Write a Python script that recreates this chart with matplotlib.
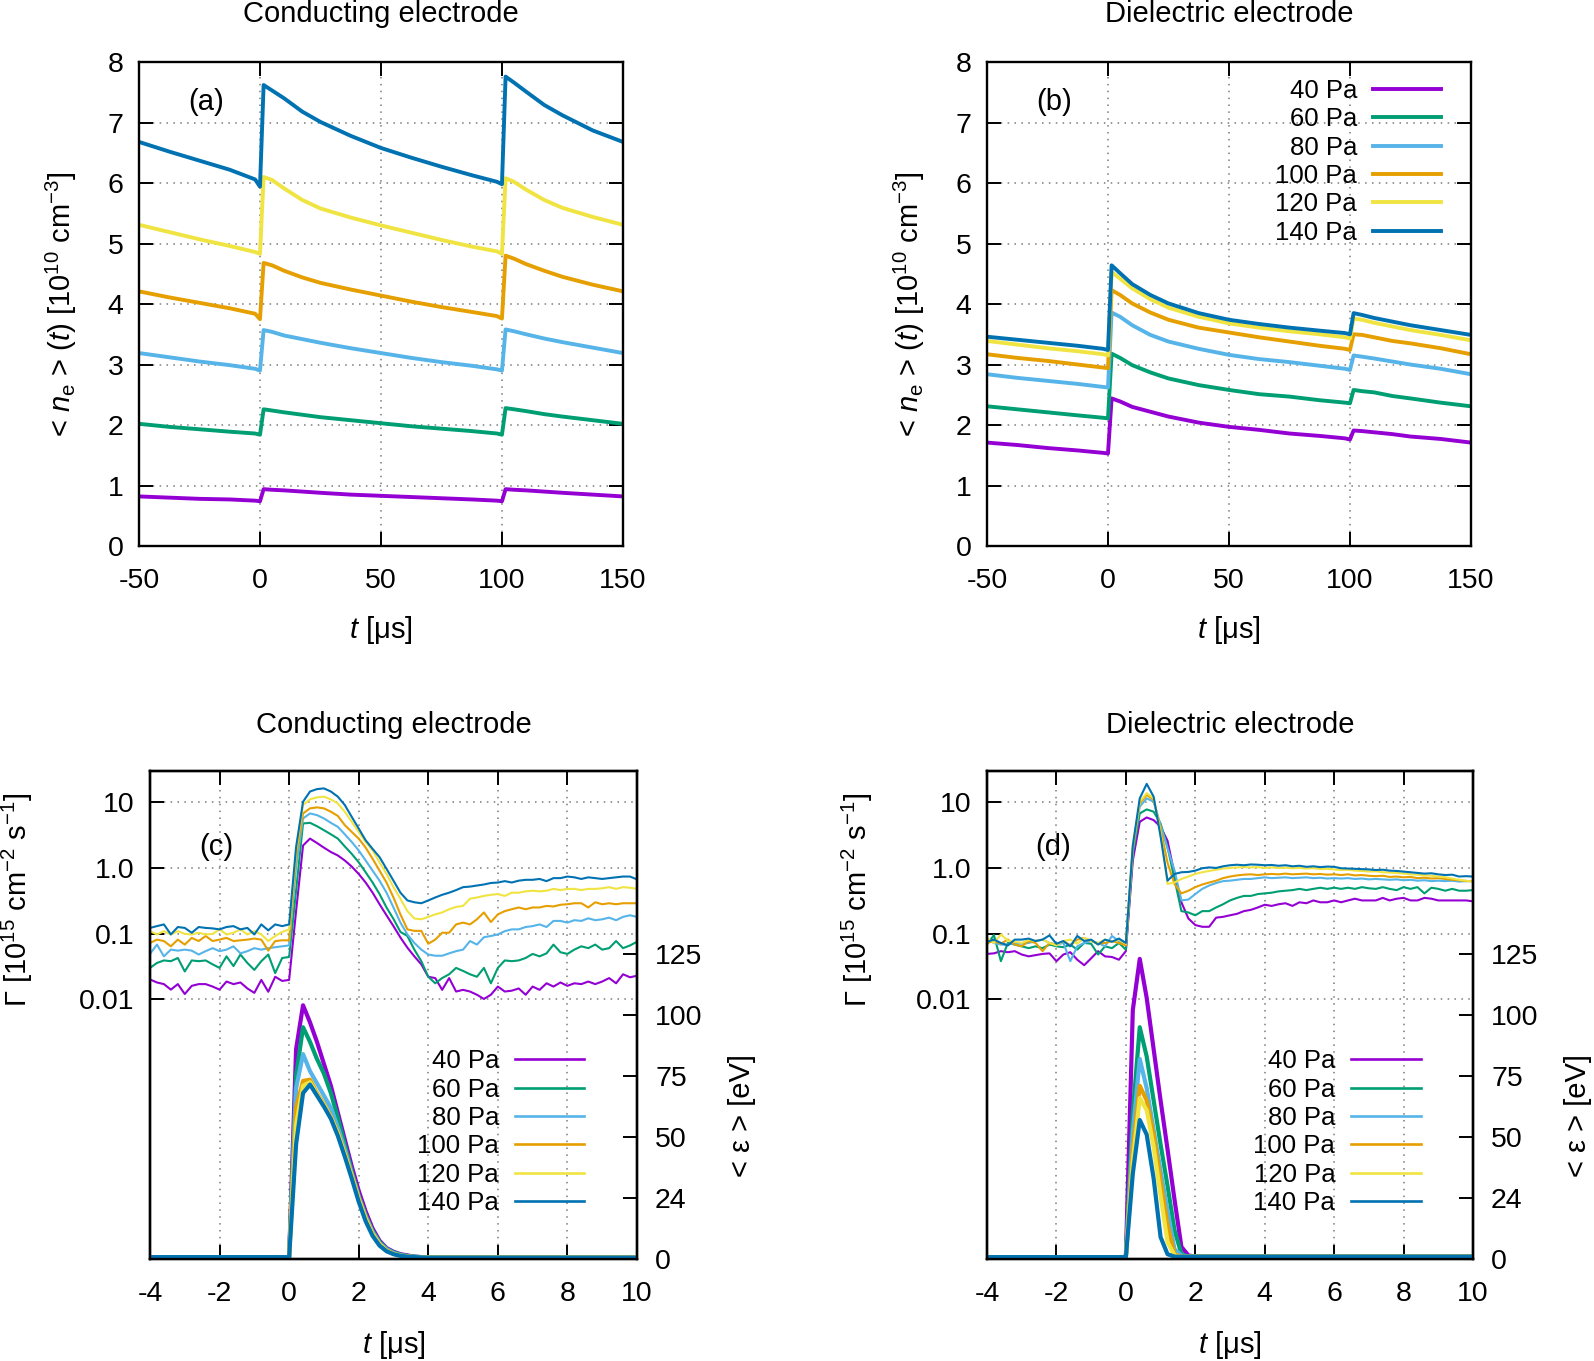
import numpy as np
import matplotlib
matplotlib.use("Agg")
import matplotlib.pyplot as plt
from matplotlib.ticker import NullLocator

plt.rcParams['font.family'] = ['Liberation Sans', 'DejaVu Sans']
plt.rcParams['mathtext.fontset'] = 'custom'
plt.rcParams['mathtext.rm'] = 'Liberation Sans'
plt.rcParams['mathtext.it'] = 'Liberation Sans:italic'
plt.rcParams['mathtext.bf'] = 'Liberation Sans:bold'
plt.rcParams['axes.unicode_minus'] = False

pressures = ["40 Pa", "60 Pa", "80 Pa", "100 Pa", "120 Pa", "140 Pa"]
colors = ["#9400d3", "#009e73", "#56b4e9", "#e69f00", "#f0e442", "#0072b2"]

# ---- mean electron density, 1e10 cm^-3 (panels a, b) ----
t_ne = [-50, -37.5, -25, -12.5, -2, 0, 1.5, 5, 10, 17.5, 25, 37.5, 50, 62.5, 75,
        87.5, 98, 100, 101.5, 105, 110, 117.5, 125, 137.5, 150]

ne_cond_40 = [0.82, 0.80, 0.78, 0.77, 0.75, 0.74, 0.94, 0.93, 0.92, 0.90, 0.88, 0.85, 0.83,
              0.81, 0.79, 0.77, 0.75, 0.74, 0.94, 0.93, 0.92, 0.90, 0.88, 0.85, 0.82]
ne_cond_60 = [2.02, 1.97, 1.93, 1.89, 1.86, 1.84, 2.26, 2.24, 2.21, 2.17, 2.13, 2.08, 2.03,
              1.98, 1.94, 1.90, 1.86, 1.84, 2.28, 2.26, 2.23, 2.18, 2.14, 2.08, 2.02]
ne_cond_80 = [3.19, 3.12, 3.05, 2.99, 2.93, 2.90, 3.57, 3.54, 3.48, 3.42, 3.36, 3.27, 3.19,
              3.11, 3.04, 2.98, 2.92, 2.90, 3.58, 3.55, 3.50, 3.43, 3.37, 3.28, 3.19]
ne_cond_100 = [4.21, 4.11, 4.02, 3.93, 3.84, 3.75, 4.68, 4.64, 4.55, 4.44, 4.35, 4.24, 4.14,
               4.04, 3.95, 3.87, 3.80, 3.76, 4.80, 4.75, 4.66, 4.55, 4.45, 4.32, 4.21]
ne_cond_120 = [5.31, 5.19, 5.07, 4.96, 4.86, 4.83, 6.10, 6.05, 5.91, 5.72, 5.58, 5.43, 5.30,
               5.18, 5.06, 4.95, 4.87, 4.83, 6.08, 6.02, 5.89, 5.72, 5.59, 5.44, 5.31]
ne_cond_140 = [6.68, 6.52, 6.37, 6.22, 6.06, 5.94, 7.62, 7.53, 7.40, 7.18, 7.01, 6.78, 6.58,
               6.42, 6.27, 6.13, 6.02, 5.98, 7.76, 7.66, 7.51, 7.29, 7.12, 6.87, 6.68]

ne_diel_40 = [1.71, 1.67, 1.62, 1.58, 1.54, 1.53, 2.44, 2.39, 2.30, 2.22, 2.14, 2.04, 1.97,
              1.92, 1.86, 1.82, 1.78, 1.76, 1.91, 1.90, 1.88, 1.85, 1.81, 1.77, 1.71]
ne_diel_60 = [2.31, 2.26, 2.21, 2.16, 2.12, 2.11, 3.18, 3.11, 2.99, 2.87, 2.77, 2.66, 2.58,
              2.51, 2.47, 2.41, 2.37, 2.36, 2.58, 2.56, 2.54, 2.48, 2.44, 2.37, 2.31]
ne_diel_80 = [2.84, 2.78, 2.73, 2.68, 2.63, 2.62, 3.86, 3.79, 3.65, 3.49, 3.38, 3.26, 3.16,
              3.09, 3.04, 2.98, 2.93, 2.91, 3.15, 3.13, 3.10, 3.05, 3.00, 2.93, 2.84]
ne_diel_100 = [3.17, 3.11, 3.06, 3.00, 2.95, 2.94, 4.23, 4.15, 4.01, 3.86, 3.74, 3.61, 3.53,
               3.45, 3.38, 3.31, 3.26, 3.24, 3.50, 3.49, 3.45, 3.39, 3.35, 3.27, 3.17]
ne_diel_120 = [3.39, 3.33, 3.27, 3.22, 3.17, 3.15, 4.53, 4.42, 4.26, 4.08, 3.94, 3.79, 3.68,
               3.61, 3.55, 3.50, 3.45, 3.43, 3.76, 3.74, 3.69, 3.63, 3.57, 3.49, 3.40]
ne_diel_140 = [3.46, 3.41, 3.36, 3.31, 3.26, 3.24, 4.64, 4.51, 4.33, 4.15, 4.01, 3.85, 3.74,
               3.67, 3.61, 3.56, 3.52, 3.50, 3.85, 3.82, 3.77, 3.71, 3.65, 3.57, 3.49]

# ---- flux Gamma, 1e15 cm^-2 s^-1, sampled every 0.2 us from -4 to 10 (panels c, d) ----
t_flux = np.round(np.arange(-4.0, 10.001, 0.2), 1)

flux_cond_40 = [0.020, 0.018, 0.017, 0.014, 0.017, 0.012, 0.016, 0.017, 0.017, 0.0156,
                0.014, 0.0186, 0.017, 0.018, 0.0146, 0.0125, 0.0197, 0.013, 0.022, 0.019,
                0.0197, 0.22, 2.2, 2.8, 2.4, 2.04, 1.75, 1.55, 1.30, 1.05,
                0.81, 0.60, 0.42, 0.28, 0.19, 0.13, 0.087, 0.061, 0.045, 0.034,
                0.022, 0.021, 0.0139, 0.021, 0.0131, 0.0139, 0.0131, 0.0117, 0.0101, 0.0117,
                0.0156, 0.0131, 0.0135, 0.0146, 0.0117, 0.0156, 0.0139, 0.0175, 0.0156, 0.018,
                0.016, 0.0175, 0.017, 0.0186, 0.017, 0.0186, 0.021, 0.0175, 0.024, 0.0216,
                0.0228]
flux_cond_60 = [0.030, 0.0357, 0.039, 0.038, 0.0425, 0.0265, 0.039, 0.038, 0.039, 0.034,
                0.030, 0.045, 0.032, 0.048, 0.0357, 0.028, 0.038, 0.048, 0.025, 0.0425,
                0.044, 0.45, 4.76, 4.87, 4.33, 3.76, 3.26, 2.80, 2.13, 1.64,
                1.22, 0.86, 0.60, 0.40, 0.25, 0.167, 0.106, 0.092, 0.057, 0.038,
                0.022, 0.0175, 0.021, 0.024, 0.030, 0.027, 0.024, 0.022, 0.030, 0.0175,
                0.030, 0.039, 0.038, 0.039, 0.0425, 0.049, 0.045, 0.050, 0.068, 0.052,
                0.049, 0.057, 0.064, 0.060, 0.068, 0.057, 0.060, 0.077, 0.060, 0.066,
                0.075]
flux_cond_80 = [0.049, 0.068, 0.045, 0.057, 0.055, 0.057, 0.055, 0.048, 0.054, 0.060,
                0.054, 0.057, 0.064, 0.050, 0.054, 0.060, 0.057, 0.060, 0.062, 0.064,
                0.066, 1.03, 5.68, 6.77, 6.39, 5.68, 4.87, 4.23, 3.26, 2.49,
                1.85, 1.30, 0.91, 0.64, 0.42, 0.25, 0.147, 0.097, 0.072, 0.057,
                0.048, 0.046, 0.046, 0.050, 0.054, 0.057, 0.077, 0.068, 0.088, 0.092,
                0.097, 0.109, 0.116, 0.116, 0.126, 0.130, 0.138, 0.126, 0.156, 0.156,
                0.147, 0.160, 0.156, 0.171, 0.160, 0.165, 0.175, 0.160, 0.180, 0.190,
                0.180]
flux_cond_100 = [0.072, 0.081, 0.077, 0.064, 0.081, 0.068, 0.086, 0.077, 0.092, 0.077,
                 0.081, 0.086, 0.077, 0.079, 0.081, 0.084, 0.081, 0.055, 0.077, 0.079,
                 0.079, 1.47, 6.77, 8.09, 8.38, 8.09, 7.19, 6.20, 4.50, 3.54,
                 2.80, 2.04, 1.38, 0.91, 0.60, 0.355, 0.196, 0.116, 0.110, 0.110,
                 0.070, 0.081, 0.103, 0.103, 0.138, 0.147, 0.138, 0.165, 0.21, 0.15,
                 0.196, 0.22, 0.235, 0.25, 0.235, 0.25, 0.25, 0.264, 0.259, 0.275,
                 0.28, 0.29, 0.29, 0.25, 0.30, 0.28, 0.29, 0.28, 0.29, 0.29,
                 0.29]
flux_cond_120 = [0.109, 0.097, 0.109, 0.097, 0.109, 0.099, 0.097, 0.103, 0.097, 0.099,
                 0.116, 0.097, 0.103, 0.116, 0.097, 0.109, 0.097, 0.077, 0.092, 0.106,
                 0.116, 1.85, 9.1, 11.1, 11.9, 12.2, 11.1, 9.6, 7.19, 5.05,
                 3.54, 2.49, 1.85, 1.22, 0.81, 0.51, 0.34, 0.22, 0.17, 0.165,
                 0.18, 0.196, 0.21, 0.235, 0.255, 0.264, 0.34, 0.355, 0.375, 0.39,
                 0.40, 0.375, 0.42, 0.42, 0.44, 0.45, 0.44, 0.45, 0.48, 0.46,
                 0.48, 0.48, 0.46, 0.48, 0.48, 0.49, 0.51, 0.48, 0.51, 0.50,
                 0.48]
flux_cond_140 = [0.122, 0.130, 0.138, 0.097, 0.126, 0.122, 0.103, 0.126, 0.122, 0.120,
                 0.116, 0.126, 0.130, 0.116, 0.122, 0.097, 0.138, 0.112, 0.138, 0.130,
                 0.138, 2.08, 10.2, 14.6, 15.9, 16.3, 14.6, 12.2, 9.1, 6.0,
                 3.99, 2.64, 1.95, 1.46, 0.97, 0.64, 0.42, 0.32, 0.30, 0.29,
                 0.32, 0.355, 0.39, 0.42, 0.46, 0.51, 0.52, 0.54, 0.56, 0.59,
                 0.60, 0.63, 0.60, 0.64, 0.66, 0.66, 0.68, 0.63, 0.70, 0.70,
                 0.74, 0.72, 0.68, 0.72, 0.70, 0.68, 0.70, 0.72, 0.74, 0.74,
                 0.67]

flux_diel_40 = [0.049, 0.050, 0.054, 0.052, 0.054, 0.048, 0.045, 0.047, 0.049, 0.050,
                0.038, 0.048, 0.052, 0.040, 0.033, 0.042, 0.054, 0.045, 0.044, 0.040,
                0.054, 1.3, 5.05, 5.88, 5.36, 4.23, 2.6, 0.81, 0.30, 0.17,
                0.135, 0.127, 0.127, 0.175, 0.18, 0.19, 0.20, 0.22, 0.23, 0.25,
                0.275, 0.264, 0.28, 0.29, 0.264, 0.30, 0.29, 0.32, 0.30, 0.30,
                0.32, 0.30, 0.32, 0.34, 0.32, 0.32, 0.32, 0.35, 0.32, 0.34,
                0.35, 0.32, 0.32, 0.35, 0.34, 0.32, 0.32, 0.32, 0.32, 0.32,
                0.31]
flux_diel_60 = [0.068, 0.095, 0.038, 0.072, 0.068, 0.064, 0.060, 0.064, 0.060, 0.068,
                0.064, 0.062, 0.068, 0.057, 0.072, 0.070, 0.048, 0.064, 0.060, 0.072,
                0.057, 1.64, 6.77, 7.8, 7.2, 4.76, 2.08, 0.68, 0.22, 0.21,
                0.19, 0.22, 0.22, 0.25, 0.28, 0.32, 0.35, 0.375, 0.375, 0.40,
                0.41, 0.42, 0.44, 0.45, 0.46, 0.48, 0.46, 0.48, 0.50, 0.48,
                0.50, 0.48, 0.50, 0.48, 0.51, 0.49, 0.48, 0.51, 0.48, 0.46,
                0.51, 0.48, 0.51, 0.41, 0.50, 0.48, 0.45, 0.48, 0.45, 0.45,
                0.46]
flux_diel_80 = [0.081, 0.072, 0.068, 0.068, 0.072, 0.070, 0.072, 0.077, 0.081, 0.072,
                0.068, 0.072, 0.038, 0.064, 0.072, 0.077, 0.072, 0.064, 0.092, 0.077,
                0.068, 1.85, 8.6, 11.5, 10.2, 4.5, 2.0, 0.92, 0.32, 0.33,
                0.40, 0.48, 0.54, 0.59, 0.63, 0.64, 0.66, 0.68, 0.68, 0.70,
                0.72, 0.70, 0.71, 0.72, 0.70, 0.71, 0.72, 0.70, 0.71, 0.69,
                0.70, 0.69, 0.70, 0.68, 0.69, 0.67, 0.68, 0.67, 0.66, 0.67,
                0.65, 0.66, 0.64, 0.65, 0.63, 0.64, 0.63, 0.64, 0.62, 0.63,
                0.63]
flux_diel_100 = [0.072, 0.077, 0.070, 0.081, 0.068, 0.064, 0.077, 0.072, 0.054, 0.072,
                 0.068, 0.077, 0.066, 0.081, 0.086, 0.077, 0.070, 0.072, 0.077, 0.072,
                 0.066, 1.96, 9.6, 13.0, 10.9, 4.0, 1.2, 0.57, 0.41, 0.45,
                 0.51, 0.56, 0.60, 0.64, 0.70, 0.74, 0.77, 0.79, 0.80, 0.78,
                 0.80, 0.81, 0.80, 0.82, 0.80, 0.81, 0.82, 0.80, 0.81, 0.79,
                 0.80, 0.78, 0.80, 0.77, 0.78, 0.76, 0.75, 0.76, 0.73, 0.74,
                 0.72, 0.73, 0.70, 0.71, 0.69, 0.70, 0.68, 0.66, 0.65, 0.63,
                 0.63]
flux_diel_120 = [0.085, 0.072, 0.097, 0.078, 0.075, 0.072, 0.080, 0.077, 0.081, 0.072,
                 0.066, 0.077, 0.081, 0.070, 0.086, 0.077, 0.072, 0.081, 0.075, 0.081,
                 0.070, 2.2, 10.2, 13.8, 11.5, 3.5, 0.57, 0.60, 0.68, 0.74,
                 0.81, 0.86, 0.90, 0.94, 0.98, 1.00, 1.02, 1.03, 1.02, 1.03,
                 1.00, 1.02, 1.00, 1.01, 0.99, 1.00, 0.98, 0.99, 0.96, 0.97,
                 0.95, 0.93, 0.94, 0.91, 0.90, 0.88, 0.89, 0.86, 0.85, 0.84,
                 0.82, 0.80, 0.79, 0.77, 0.76, 0.74, 0.72, 0.69, 0.66, 0.64,
                 0.62]
flux_diel_140 = [0.075, 0.081, 0.072, 0.066, 0.081, 0.081, 0.084, 0.077, 0.081, 0.094,
                 0.070, 0.077, 0.064, 0.092, 0.077, 0.081, 0.068, 0.081, 0.075, 0.084,
                 0.072, 2.2, 11.5, 19.1, 12.2, 3.0, 0.64, 0.81, 0.86, 0.87,
                 0.91, 0.99, 1.02, 1.00, 1.06, 1.10, 1.12, 1.10, 1.13, 1.12,
                 1.10, 1.11, 1.08, 1.10, 1.06, 1.08, 1.04, 1.06, 1.03, 1.05,
                 1.04, 0.99, 0.98, 0.97, 0.96, 0.95, 0.93, 0.94, 0.91, 0.90,
                 0.88, 0.86, 0.84, 0.82, 0.83, 0.80, 0.78, 0.79, 0.74, 0.75,
                 0.74]

# ---- mean energy, eV (panels c, d) ----
t_eps = [-4.0, -2.0, 0.0, 0.2, 0.4, 0.6, 0.8, 1.0, 1.2, 1.4, 1.6, 1.8, 2.0,
         2.2, 2.4, 2.6, 2.8, 3.0, 3.2, 3.4, 3.6, 3.8, 4.0, 6.0, 8.0, 10.0]

eps_cond_40 = [0.8, 0.8, 0.8, 86, 104, 97, 89, 80, 71, 60, 49, 38, 28, 19.5, 12.5, 7.5, 4.5, 3.0, 2.0, 1.5, 1.0, 0.8, 0.6, 0.6, 0.6, 0.6]
eps_cond_60 = [0.8, 0.8, 0.8, 75, 95, 89, 82, 76, 68, 58, 47, 36, 26, 18, 11.5, 7.0, 4.2, 2.8, 1.8, 1.3, 1.0, 0.8, 0.6, 0.6, 0.6, 0.6]
eps_cond_80 = [0.8, 0.8, 0.8, 70, 84, 77, 72, 67, 62, 54, 45, 35, 25.5, 17.5, 11, 6.5, 4.0, 2.5, 1.6, 1.2, 0.9, 0.7, 0.6, 0.6, 0.6, 0.6]
eps_cond_100 = [0.8, 0.8, 0.8, 62, 73, 73.5, 68, 63.5, 58.5, 52, 43.5, 34.5, 25, 17, 10.5, 6.2, 3.6, 2.2, 1.4, 1.0, 0.8, 0.7, 0.6, 0.6, 0.6, 0.6]
eps_cond_120 = [0.8, 0.8, 0.8, 55, 71, 72.5, 67.5, 63, 58, 51.5, 43, 34, 24.5, 16.5, 10.2, 6.0, 3.4, 2.1, 1.3, 1.0, 0.8, 0.7, 0.6, 0.6, 0.6, 0.6]
eps_cond_140 = [0.8, 0.8, 0.8, 47, 68, 71.5, 67, 62.5, 57.5, 50.5, 42, 33, 23.5, 15.5, 9.5, 5.5, 3.2, 2.0, 1.3, 1.0, 0.8, 0.7, 0.6, 0.6, 0.6, 0.6]

eps_diel_40 = [0.8, 0.8, 0.8, 102, 123, 107, 86, 65, 45, 24.5, 5, 1.5, 1.0, 1.0, 1.0, 1.0, 1.0, 1.0, 1.0, 1.0, 1.0, 1.0, 1.0, 1.0, 1.0, 1.0]
eps_diel_60 = [0.8, 0.8, 0.8, 60, 95, 83, 65, 47, 30, 12, 2.0, 1.0, 1.0, 1.0, 1.0, 1.0, 1.0, 1.0, 1.0, 1.0, 1.0, 1.0, 1.0, 1.0, 1.0, 1.0]
eps_diel_80 = [0.8, 0.8, 0.8, 52, 82, 70, 53, 36, 20, 4.0, 1.5, 1.0, 1.0, 1.0, 1.0, 1.0, 1.0, 1.0, 1.0, 1.0, 1.0, 1.0, 1.0, 1.0, 1.0, 1.0]
eps_diel_100 = [0.8, 0.8, 0.8, 45, 71, 65, 51, 32, 14, 2.0, 1.0, 1.0, 1.0, 1.0, 1.0, 1.0, 1.0, 1.0, 1.0, 1.0, 1.0, 1.0, 1.0, 1.0, 1.0, 1.0]
eps_diel_120 = [0.8, 0.8, 0.8, 40, 66, 61, 46, 26, 7.0, 1.5, 1.0, 1.0, 1.0, 1.0, 1.0, 1.0, 1.0, 1.0, 1.0, 1.0, 1.0, 1.0, 1.0, 1.0, 1.0, 1.0]
eps_diel_140 = [0.8, 0.8, 0.8, 35, 57, 51, 33, 9.0, 2.0, 1.0, 1.0, 1.0, 1.0, 1.0, 1.0, 1.0, 1.0, 1.0, 1.0, 1.0, 1.0, 1.0, 1.0, 1.0, 1.0, 1.0]

FS_TICK = 20.5
FS_LAB = 21
FS_LEG = 18.5
GRID = dict(color="#7a7a7a", linestyle=(0, (1, 3.5)), linewidth=1.1)


def style_axes(ax):
    for s in ax.spines.values():
        s.set_linewidth(1.7)
    ax.tick_params(which="major", direction="in", length=10, width=1.4,
                   labelsize=FS_TICK, pad=11)
    ax.tick_params(axis="x", pad=16)


def density_panel(ax, series, title, tag, legend=False):
    for vals, col, lab in zip(series, colors, pressures):
        ax.plot(t_ne, vals, color=col, lw=2.8, label=lab)
    ax.set_xlim(-50, 150)
    ax.set_ylim(0, 8)
    ax.set_xticks([-50, 0, 50, 100, 150])
    ax.set_yticks(range(0, 9))
    style_axes(ax)
    ax.tick_params(top=True, right=True)
    ax.grid(True, **GRID)
    ax.set_title(title, fontsize=FS_LAB, pad=29)
    ax.set_xlabel(r"$t$ [μs]", fontsize=FS_LAB)
    ax.xaxis.set_label_coords(0.5, -0.174)
    ax.xaxis.label.set_va("center")
    ax.set_ylabel(r"< $n_{\mathrm{e}}$ > ($t$) [10$^{10}$ cm$^{-3}$]", fontsize=FS_LAB)
    ax.yaxis.set_label_coords(-0.16, 0.5)
    ax.yaxis.label.set_va("center")
    ax.text(0.139, 0.918, tag, transform=ax.transAxes, ha="center", va="center",
            fontsize=FS_LAB)
    if legend:
        ax.legend(loc="center right", bbox_to_anchor=(0.938, 0.794), frameon=False,
                  markerfirst=False, fontsize=FS_LEG, handlelength=2.65,
                  handletextpad=0.62, labelspacing=0.17, borderpad=0, borderaxespad=0)


def flux_panel(ax, fluxes, energies, title, tag, xr_lab):
    for vals, col in zip(fluxes, colors):
        ax.plot(t_flux, vals, color=col, lw=1.5)
    ax.set_yscale("log")
    ax.set_xlim(-4, 10)
    ax.set_ylim(1.1e-6, 30)
    ax.set_xticks([-4, -2, 0, 2, 4, 6, 8, 10])
    ax.set_yticks([0.01, 0.1, 1, 10])
    ax.set_yticklabels(["0.01", "0.1", "1.0", "10"])
    ax.yaxis.set_minor_locator(NullLocator())
    style_axes(ax)
    ax.tick_params(top=True, right=False)
    ax.grid(True, **GRID)
    ax.set_title(title, fontsize=FS_LAB, pad=27.5)
    ax.set_xlabel(r"$t$ [μs]", fontsize=FS_LAB)
    ax.xaxis.set_label_coords(0.5, -0.176)
    ax.xaxis.label.set_va("center")
    ax.set_ylabel(r"Γ [10$^{15}$ cm$^{-2}$ s$^{-1}$]", fontsize=FS_LAB)
    ax.yaxis.set_label_coords(xr_lab[0], 0.737)
    ax.yaxis.label.set_va("center")
    ax.text(0.137, 0.844, tag, transform=ax.transAxes, ha="center", va="center",
            fontsize=FS_LAB)

    ax2 = ax.twinx()
    for vals, col, lab in zip(energies, colors, pressures):
        ax2.plot(t_eps, vals, color=col, lw=3.0, label=lab)
    ax2.set_ylim(0, 200)
    ax2.set_yticks([0, 25, 50, 75, 100, 125])
    ax2.set_yticklabels(["0", "24", "50", "75", "100", "125"])
    ax2.tick_params(axis="y", direction="in", length=10, width=1.4,
                    labelsize=FS_TICK, pad=13)
    for s in ax2.spines.values():
        s.set_linewidth(1.7)
    ax2.set_ylabel("< ε > [eV]", fontsize=FS_LAB)
    ax2.yaxis.set_label_coords(xr_lab[1], 0.294)
    ax2.yaxis.label.set_va("center")
    leg = ax2.legend(loc="center right", bbox_to_anchor=(0.892, 0.26), frameon=False,
                     markerfirst=False, fontsize=FS_LEG, handlelength=2.7,
                     handletextpad=0.62, labelspacing=0.17, borderpad=0, borderaxespad=0)
    for h in leg.get_lines():
        h.set_linewidth(1.9)


def main():
    fig = plt.figure(figsize=(15.94, 13.61), dpi=100)
    ax_a = fig.add_axes([0.0872, 0.5988, 0.3036, 0.3556])
    ax_b = fig.add_axes([0.6192, 0.5988, 0.3036, 0.3556])
    ax_c = fig.add_axes([0.0941, 0.0749, 0.3055, 0.3586])
    ax_d = fig.add_axes([0.6192, 0.0749, 0.3049, 0.3586])

    density_panel(ax_a, [ne_cond_40, ne_cond_60, ne_cond_80, ne_cond_100, ne_cond_120, ne_cond_140],
                  "Conducting electrode", "(a)")
    density_panel(ax_b, [ne_diel_40, ne_diel_60, ne_diel_80, ne_diel_100, ne_diel_120, ne_diel_140],
                  "Dielectric electrode", "(b)", legend=True)

    flux_panel(ax_c,
               [flux_cond_40, flux_cond_60, flux_cond_80, flux_cond_100, flux_cond_120, flux_cond_140],
               [eps_cond_40, eps_cond_60, eps_cond_80, eps_cond_100, eps_cond_120, eps_cond_140],
               "Conducting electrode", "(c)", (-0.273, 1.216))
    flux_panel(ax_d,
               [flux_diel_40, flux_diel_60, flux_diel_80, flux_diel_100, flux_diel_120, flux_diel_140],
               [eps_diel_40, eps_diel_60, eps_diel_80, eps_diel_100, eps_diel_120, eps_diel_140],
               "Dielectric electrode", "(d)", (-0.267, 1.216))

    fig.savefig("out.png", dpi=100)


if __name__ == "__main__":
    main()
